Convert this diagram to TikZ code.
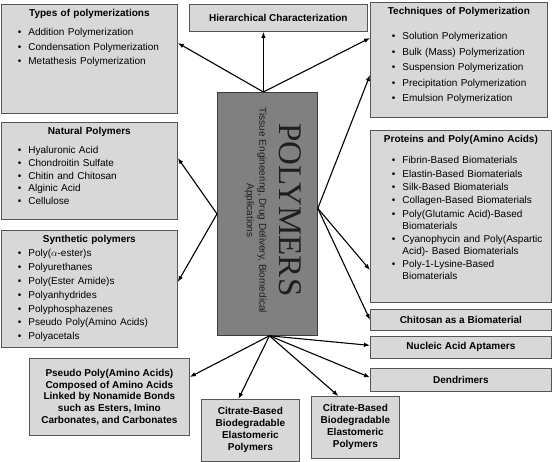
\documentclass[tikz,border=0pt]{standalone}
\usepackage{fontspec}
\setmainfont{Liberation Sans}
\newfontfamily\polyserif{Liberation Serif}
\usetikzlibrary{positioning,arrows.meta}
\definecolor{boxGray}{RGB}{216,216,216}
\definecolor{boxEdge}{RGB}{85,85,85}
\definecolor{coreGray}{RGB}{128,128,128}
\definecolor{coreEdge}{RGB}{60,60,60}
\definecolor{coreText}{RGB}{30,30,30}

\newcommand{\boxhead}[4]{{\centering\bfseries #1\par}\vspace{#2}\leftskip=#3\baselineskip=#4\relax}
\newcommand{\bitem}[1]{\par\leavevmode\llap{\textbullet\hspace{7pt}}#1}

\begin{document}
\begin{tikzpicture}[x=1pt, y=-1pt,
    box/.style={draw=boxEdge, fill=boxGray, line width=0.8pt, inner sep=0pt, anchor=north west},
    head/.style={box, font=\bfseries, align=center},
    core/.style={draw=coreEdge, fill=coreGray, line width=0.8pt, inner sep=0pt, anchor=north west},
    list/.style={anchor=north, inner xsep=3pt, inner ysep=5.5pt, align=left, font=\fontsize{10}{12}\selectfont},
    link/.style={-{Latex[length=6pt,width=4.5pt]}, line width=1.1pt}]
  \useasboundingbox (0,0) rectangle (553,462);

  % left column
  \node[box, minimum width=176pt, minimum height=109pt] (types) at (1,4) {};
  \node[list, text width=170pt] (types-txt) at (types.north) {\boxhead{Types of polymerizations}{4.5pt}{24pt}{14.5pt}
    \bitem{Addition Polymerization}
    \bitem{Condensation Polymerization}
    \bitem{Metathesis Polymerization}\par};
  \node[box, minimum width=176pt, minimum height=97pt] (natural) at (1,122) {};
  \node[list, text width=170pt] (natural-txt) at (natural.north) {\boxhead{Natural Polymers}{6.4pt}{24pt}{12.6pt}
    \bitem{Hyaluronic Acid}
    \bitem{Chondroitin Sulfate}
    \bitem{Chitin and Chitosan}
    \bitem{Alginic Acid}
    \bitem{Cellulose}\par};
  \node[box, minimum width=176pt, minimum height=117pt] (synth) at (1,230) {};
  \node[list, text width=170pt] (synth-txt) at (synth.north) {\boxhead{Synthetic polymers}{0.2pt}{24pt}{13.8pt}
    \bitem{Poly($\alpha$-ester)s}
    \bitem{Polyurethanes}
    \bitem{Poly(Ester Amide)s}
    \bitem{Polyanhydrides}
    \bitem{Polyphosphazenes}
    \bitem{Pseudo Poly(Amino Acids)}
    \bitem{Polyacetals}\par};
  \node[head, minimum width=160pt, minimum height=77pt, font=\bfseries\fontsize{10}{11.7}\selectfont] (pseudo) at (29,358) {Pseudo Poly(Amino Acids)\\Composed of Amino Acids\\Linked by Nonamide Bonds\\such as Esters, Imino\\Carbonates, and Carbonates};

  % middle
  \node[head, minimum width=178pt, minimum height=27pt] (hier) at (189,4) {Hierarchical Characterization};
  \node[core, minimum width=100pt, minimum height=243pt] (poly) at (217,92) {};
  \node[rotate=-90, text=coreText, font=\polyserif\fontsize{33}{33}\selectfont] (polytitle) at (290.5,210) {POLYMERS};
  \node[rotate=-90, text=coreText, align=center, font=\fontsize{10}{12.3}\selectfont] (polysub) at (255.7,210.5) {Tissue Engineering, Drug Delivery, Biomedical\\Applications};
  \node[head, minimum width=98pt, minimum height=62pt] (cit1) at (201,399) {Citrate-Based\\Biodegradable\\Elastomeric\\Polymers};
  \node[head, minimum width=88pt, minimum height=62pt] (cit2) at (311,396) {Citrate-Based\\Biodegradable\\Elastomeric\\Polymers};

  % right column
  \node[box, minimum width=177pt, minimum height=115pt] (tech) at (370,2) {};
  \node[list, text width=171pt] (tech-txt) at (tech.north) {\boxhead{Techniques of Polymerization}{9.5pt}{29pt}{15.5pt}
    \bitem{Solution Polymerization}
    \bitem{Bulk (Mass) Polymerization}
    \bitem{Suspension Polymerization}
    \bitem{Precipitation Polymerization}
    \bitem{Emulsion Polymerization}\par};
  \node[box, minimum width=181pt, minimum height=172pt] (prot) at (370,130) {};
  \node[list, text width=175pt] (prot-txt) at (prot.north) {\boxhead{Proteins and Poly(Amino Acids)}{7.7pt}{29pt}{12pt}\parskip=1.3pt
    \bitem{Fibrin-Based Biomaterials}
    \bitem{Elastin-Based Biomaterials}
    \bitem{Silk-Based Biomaterials}
    \bitem{Collagen-Based Biomaterials}
    \bitem{Poly(Glutamic Acid)-Based\newline Biomaterials}
    \bitem{Cyanophycin and Poly(Aspartic\newline Acid)- Based Biomaterials}
    \bitem{Poly-1-Lysine-Based\newline Biomaterials}\par};
  \node[head, minimum width=181pt, minimum height=21pt] (chitosan) at (370,309) {Chitosan as a Biomaterial};
  \node[head, minimum width=181pt, minimum height=22pt] (nucleic) at (370,336) {Nucleic Acid Aptamers};
  \node[head, minimum width=181pt, minimum height=23pt] (dendr) at (370,368) {Dendrimers};

  % connectors
  \coordinate (ptop) at ([xshift=-4pt]poly.north);
  \coordinate (pleft) at (poly.west);
  \coordinate (pright) at ([yshift=5.5pt]poly.east);
  \coordinate (pbot) at ([xshift=2pt]poly.south);
  \draw[link] (ptop) -- ([yshift=-39pt]types.north east);
  \draw[link] (ptop) -- (ptop |- hier.south);
  \draw[link] (ptop) -- ([yshift=-36pt]tech.north west);
  \draw[link] (pleft) -- ([yshift=-36pt]natural.north east);
  \draw[link] (pleft) -- ([yshift=-52pt]synth.north east);
  \draw[link] (pright) -- ([yshift=-73pt]tech.north west);
  \draw[link] (pright) -- ([yshift=-140pt]prot.north west);
  \draw[link] (pright) -- (chitosan.west);
  \draw[link] (pbot) -- ([yshift=2pt]nucleic.west);
  \draw[link] (pbot) -- ([yshift=2.5pt]dendr.west);
  \draw[link] (pbot) -- ([xshift=-17pt]cit2.north);
  \draw[link] (pbot) -- ([xshift=-12pt]cit1.north);
  \draw[link] (pbot) -- ([yshift=-19pt]pseudo.north east);
\end{tikzpicture}
\end{document}
